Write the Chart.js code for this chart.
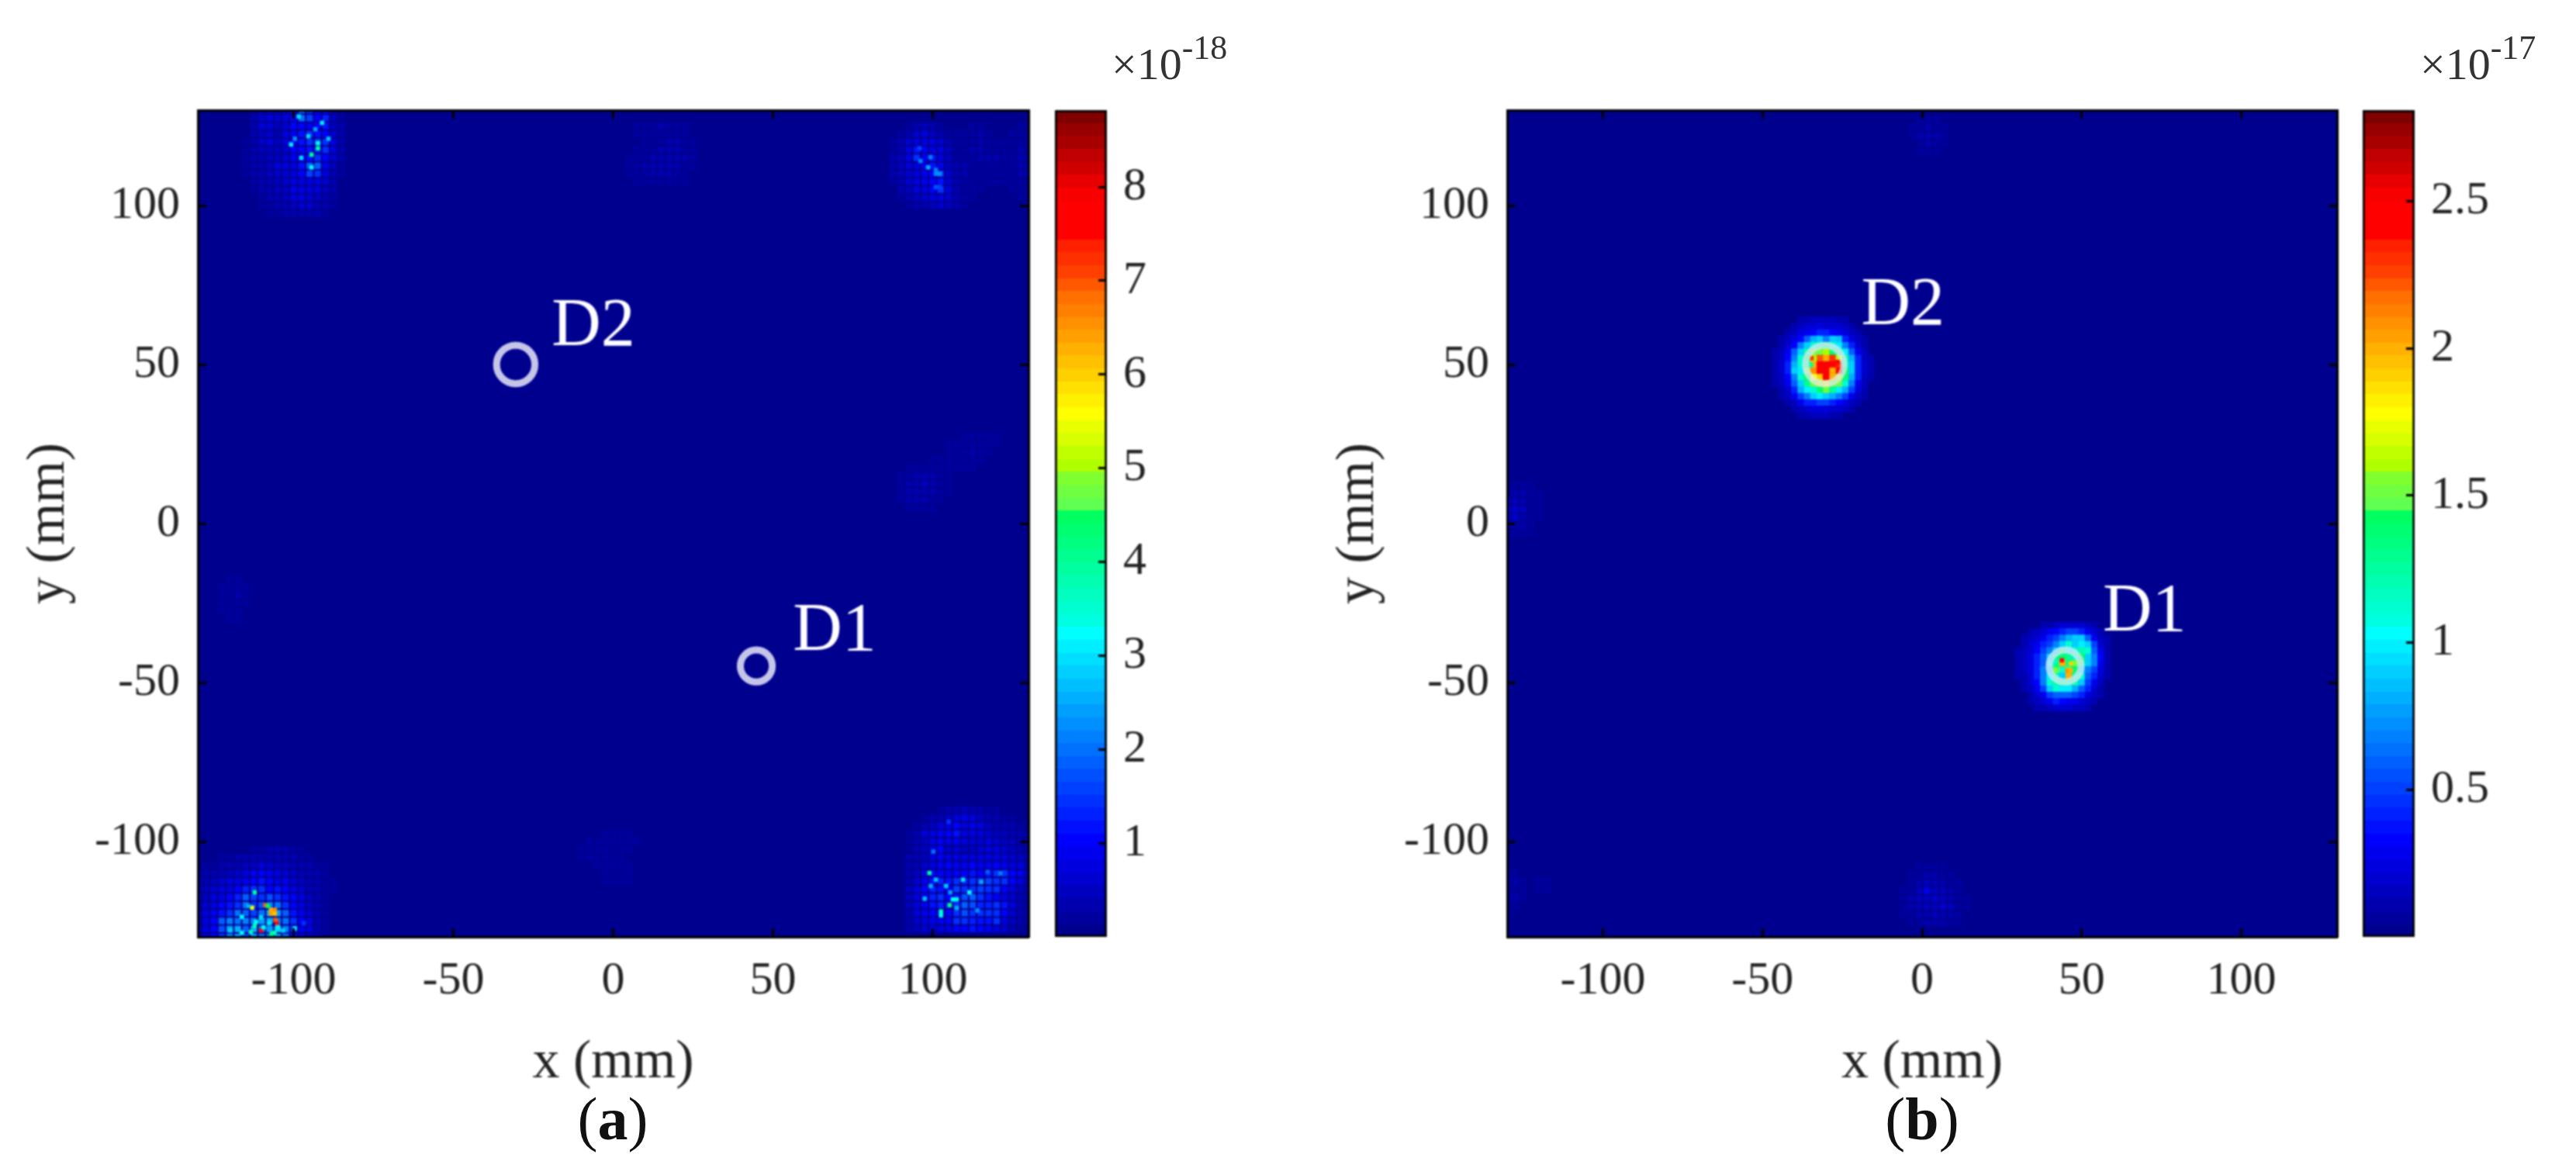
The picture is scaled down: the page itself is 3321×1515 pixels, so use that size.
<!DOCTYPE html>
<html>
<head>
<meta charset="utf-8">
<title>D1 D2 maps</title>
<script src="https://cdn.jsdelivr.net/npm/chart.js@4"></script>
<style>
  html, body { margin: 0; background: #fff; }
  body { position: relative; width: 3321px; height: 1515px; overflow: hidden; font-family: "Liberation Serif", serif; color: #222; }
  canvas { position: absolute; top: 0; filter: blur(0.9px); }
  .caption { position: absolute; top: 1396px; width: 300px; text-align: center; font-size: 78px; line-height: 94px; color: #111; }
  .exponent { position: absolute; top: 48px; font-size: 58px; line-height: 70px; white-space: nowrap; color: #333; }
  .exponent sup { font-size: 44px; line-height: 0; position: relative; top: -6px; vertical-align: super; }
</style>
</head>
<body>
<canvas id="panelA"></canvas>
<canvas id="barA"></canvas>
<canvas id="panelB"></canvas>
<canvas id="barB"></canvas>
<div class="exponent" style="left:1433px">×10<sup>-18</sup></div>
<div class="exponent" style="left:3120px">×10<sup>-17</sup></div>
<div class="caption" style="left:640px">(<b>a</b>)</div>
<div class="caption" style="left:2328px">(<b>b</b>)</div>
<script>
// ---- axis data ----
const xTicks = [-100, -50, 0, 50, 100];
const yTicks = [-100, -50, 0, 50, 100];
const axisMin = -130;
const axisMax = 130;
const cbarTicksA = [1, 2, 3, 4, 5, 6, 7, 8];
const cbarTicksB = [0.5, 1, 1.5, 2, 2.5];
const cbarMaxA = 8.82;   // x 10^-18
const cbarMaxB = 2.81;   // x 10^-17

// ---- defect positions ----
const defectNames = ['D1', 'D2'];
const defectX = [44.8, -30.5];
const defectY = [-44.8, 50];
const defectRadius = [5, 6];   // mm
const nameXA = [69.3, -6.2];
const nameYA = [-34.1, 61.8];
const nameXB = [69.7, -6];
const nameYB = [-28, 68.3];

// ---- panel (a), 2.5 mm readings, top row first ----
const rowsABottomLeft = [
  [0,0,0,0,0,0,0,.2,.2,.3,.3,.3,.2,.2,0,0,0,0],
  [0,0,0,.2,.2,.3,.3,.3,.4,.4,.4,.3,.3,.2,.2,0,0,0],
  [0,.2,.2,.3,.3,.4,.5,.5,.7,.6,.5,.5,.4,.3,.3,.2,.2,0],
  [.2,.3,.3,.4,.5,.6,.7,.9,1,.9,.7,.6,.5,.4,.3,.3,.2,0],
  [.3,.4,.5,.6,.7,.8,.9,1.1,1.2,1,.8,.9,.6,.5,.4,.3,.2,.2],
  [.3,.5,.6,.7,.8,1,1.3,1.5,1.4,1.1,1.2,1,.8,.6,.4,.3,.2,.2],
  [.4,.5,.7,.8,1,1.3,1.8,1.6,1.4,1.7,1.5,1.2,1,.7,.5,.3,.2,0],
  [.4,.6,.8,1,1.2,1.5,2,1.5,1.7,2.2,2,1.4,1.1,.8,.5,.3,.2,0],
  [.5,.7,.9,1.2,1.5,2,1.8,1.6,2,2.6,2.4,1.8,1.2,.9,.6,.3,.2,0],
  [.5,.8,1,1.8,2.2,2,2.2,2.2,2.4,2.6,2.2,2,1.4,1,.8,.4,.2,0],
  [.5,.8,1.1,1.7,2.4,2.6,1.8,2.6,2.2,2.4,2.8,2.2,1.5,.9,.7,.4,.2,0],
  [.4,.7,1,1.5,2.2,2.4,1.6,2.4,2,2.2,2.4,2,1.2,.8,.5,.3,.2,0]
];
const hotABottomLeft = [
  [-107.1,-121.5,6.3],[-105.9,-121.5,6.5],[-107.1,-122.7,6.4],[-105.9,-122.7,6.2],
  [-105.3,-125.7,7.7],[-105.7,-124.6,7],[-108.9,-120,7],[-108.1,-120.3,4.5],
  [-113,-120.8,5.5],[-112.2,-116,3.9],[-110.2,-128,7.8],[-116.2,-123.7,3.3],
  [-111.8,-125.3,3.3],[-110.2,-123.8,3],[-112.2,-126.5,3.8],[-106.9,-129,4.2],
  [-116.2,-128.7,3.2],[-119.8,-128,2.8],[-104.9,-126.9,3.1],[-107.7,-125.7,2.9],
  [-99.6,-127.3,2.9],[-103.3,-128,2.8],[-114.2,-120.3,2.5],[-96.8,-125.7,1.5],
  [-109.4,-127,3.3],[-113.4,-128.5,3.8],[-106,-128.7,3.6]
];
const rowsABottomRight = [
  [0,0,0,0,.2,.3,.4,.5,.4,.3,.2,.2,0,0,0,0],
  [0,0,.2,.3,.4,.5,.8,.9,.8,.5,.4,.3,.2,.2,0,0],
  [0,.2,.4,.5,.7,.8,1,.7,.9,.7,.5,.4,.3,.3,.2,0],
  [.2,.4,.7,.8,.9,1.1,1.2,.8,.8,.7,.6,.5,.5,.4,.3,.2],
  [.2,.4,.5,.8,.9,.7,.9,.8,.6,.6,.7,.6,.5,.5,.3,.2],
  [.2,.3,.5,.7,1,.5,.6,.5,.5,.6,.8,.7,.6,.5,.4,.2],
  [.3,.4,.5,.7,.9,.8,.7,.7,.8,.7,.8,.8,.7,.6,.5,.3],
  [.3,.4,.6,.8,.9,1,.9,.9,1,.9,.9,1,.9,.8,.7,.4],
  [.4,.5,.7,1,1.1,.9,1,1.1,1.2,1.1,1.2,1.4,1.5,1,.9,.5],
  [.4,.6,.9,1.2,1.3,1.2,1.4,1.3,1.5,1.4,1.6,1.5,1.4,1,.8,.4],
  [.5,.8,1,1.3,1.2,1,1.6,1.4,1.5,1.6,1.5,1.5,1,.8,.5,.3],
  [.5,.8,1.1,1.3,1.4,1.1,1.2,1.7,1.8,1.4,1.2,1,.8,.6,.4,.3],
  [.5,.8,.9,1.2,1.3,1.2,1.5,1.9,1.7,1.3,1.3,1.4,1.2,.7,.4,.2],
  [.4,.7,.9,1,1,1.1,1.5,1.7,1.5,1.4,1.5,1.4,1,.6,.4,.2],
  [.4,.6,.8,.9,.9,.9,1.5,1.4,1.3,1.2,1.2,1.4,.8,.5,.3,.2],
  [.3,.5,.6,.7,.7,.8,1,1.1,1.2,1,.9,.8,.6,.4,.2,0]
];
const hotABottomRight = [
  [99,-109.9,4.1],[107.5,-118.2,3.4],[106.3,-118.2,3.2],[105.3,-120,4.2],[102.6,-122,3.6],
  [102.6,-123.2,3.4],[111.5,-116,3.3],[109.5,-112,2.9],[101,-112,2.7],[99.4,-114,2.6],
  [104.2,-114,2.8],[97.5,-118,2.7],[121.2,-110,2.2],[117.2,-109.6,1.8],[105.5,-116,2.4],
  [115.2,-112.7,2.6],[107.5,-120.9,2.6],[114,-121.7,2.3],[100.2,-103.2,2],[105,-93.8,1.5]
];
const rowsATopLeft = [
  [0,.2,.5,.6,.5,.8,1.2,2,1.5,1,1,.4,.2],
  [0,.3,.6,.7,.6,.8,1,2,1.6,1,1.3,.5,.2],
  [0,.3,.7,.7,.5,.6,1,1.1,.9,1,1.2,.5,.3],
  [0,.3,.5,.6,.4,.7,.9,1.2,1.5,1.2,1,.6,.3],
  [.2,.3,.6,.7,.5,.8,1,1.2,1.4,1.6,1.5,.7,.3],
  [.2,.3,.5,.5,.5,.6,1,1,1.2,1.3,1.4,.8,.3],
  [.2,.3,.4,.5,.5,.6,.9,1,1.2,1.5,1,.6,.3],
  [.2,.3,.4,.5,.7,.7,.8,1.2,1.9,1.9,.9,.5,.2],
  [.2,.3,.4,.5,.6,.6,.8,1,1.6,1.4,.8,.4,.2],
  [0,.2,.3,.4,.5,.6,.8,.8,.7,.8,.6,.3,0],
  [0,.2,.3,.4,.5,.5,.9,.8,.7,.7,.5,.3,0],
  [0,0,.2,.3,.4,.5,.7,.7,.6,.5,.4,.2,0],
  [0,0,.2,.2,.3,.4,.5,.6,.6,.4,.3,.2,0],
  [0,0,0,.2,.2,.3,.3,.4,.3,.3,.2,0,0]
];
const hotATopLeft = [
  [-94.4,116,4.1],[-92.4,118,3.9],[-92.4,119.6,3.3],[-97.6,115,3],[-94.4,112,3.3],
  [-100.8,119.2,3.1],[-95.4,121.8,2.9],[-91.1,126,3.1],[-98.4,128,2.9],[-89.1,121,2.7],
  [-99.6,121,2.3],[-93.2,124,2.4]
];
const rowsATopRight = [
  [0,0,.2,.3,.5,.4,.2,0,0,0,.2,.2,0,0,0,0,.2,.2],
  [0,.2,.4,.6,.7,.5,.4,.2,.2,.2,.2,.3,.2,0,0,.2,.2,.2],
  [.2,.4,.6,.8,.8,.8,.6,.4,.2,.2,.2,.3,.2,.2,.2,.2,.2,.2],
  [.2,.4,.7,1.2,.9,.8,.7,.5,.2,.2,.3,.4,.2,.2,.2,.2,.3,.2],
  [.3,.5,.7,1.4,.9,1.2,.8,.5,.2,.2,.2,.3,.3,.3,.2,.2,.3,.3],
  [.3,.5,.7,.8,.9,1.2,.9,.5,.3,.3,.2,.2,.2,.2,.2,.2,.3,.3],
  [.3,.5,.6,.8,.9,1,1.5,.6,.4,.3,.2,.2,.2,.2,.2,.2,.3,.3],
  [.2,.4,.6,.8,.9,1,1.2,.6,.3,.2,.2,.2,.2,.2,.2,.2,.2,.2],
  [0,.3,.5,.7,.8,1,1.4,.7,.3,.2,.2,.2,0,0,0,.2,.2,.2],
  [0,.2,.3,.5,.6,.7,.7,.6,.4,.2,.2,0,0,0,0,0,.2,.2],
  [0,0,.2,.3,.4,.5,.6,.5,.3,.2,0,0,0,0,0,0,0,.2]
];
const hotATopRight = [
  [95.9,118,1.6],[96.2,114,2.2],[101,110,2.3],[102.2,110,2.3],[101,111.2,2.2],
  [101,105.8,1.7],[102.2,105.8,1.6],[98.6,112,2.6],[99.3,115.2,2.2]
];
const rowsATopMiddle = [
  [0,.2,.2,.2,.3,.2,.2,.2,0],
  [0,.2,.2,.2,.2,.2,.2,.2,0],
  [0,0,.2,.2,.2,.3,.3,.2,.2],
  [0,.2,.2,.2,.3,.4,.4,.2,.2],
  [.2,.2,.2,.3,.4,.4,.4,.3,.2],
  [.2,.2,.3,.4,.4,.4,.3,.2,.2],
  [.2,.2,.2,.3,.3,.3,.2,.2,0],
  [0,.2,.2,.2,.2,.2,.2,.2,0]
];
const rowsARight = [
  [0,0,0,0,0,0,0,0,.15,.15,.15,.15,.15],
  [0,0,0,0,0,0,.15,.15,.2,.2,.2,.2,.15],
  [0,0,0,0,0,0,.15,.2,.2,.3,.2,.15,0],
  [0,0,0,0,.15,.15,.15,.2,.2,.2,.15,0,0],
  [0,.15,.15,.15,.2,.2,.15,.15,.15,.15,0,0,0],
  [.15,.2,.3,.3,.3,.2,.15,0,0,0,0,0,0],
  [.2,.3,.4,.5,.3,.2,.15,0,0,0,0,0,0],
  [.2,.3,.4,.4,.3,.2,.15,0,0,0,0,0,0],
  [.15,.3,.3,.3,.2,.15,0,0,0,0,0,0,0],
  [0,.15,.2,.2,.15,0,0,0,0,0,0,0,0]
];
const rowsALeft = [
  [0,.15,.15,0],
  [.15,.2,.2,.15],
  [.15,.2,.3,.15],
  [.15,.2,.2,.15],
  [.15,.2,.15,0],
  [0,.15,.15,0]
];
const rowsABottomMiddle = [
  [0,0,0,.15,.15,.15,.15,0],
  [0,.15,.15,.15,.15,.15,.15,.15],
  [.15,.15,.15,.15,.15,.15,.15,0],
  [.15,.15,.15,.15,.15,.15,0,0],
  [0,0,.15,.15,.15,.15,.15,0],
  [0,0,0,.15,.15,.15,.15,0],
  [0,0,0,.15,.15,.15,.15,0]
];

// ---- panel (b), 2 mm readings around the defects, top row first ----
const rowsBD2 = [
  [0,0,0,0,.1,.1,.15,.15,.15,.15,.1,.1,0,0,0,0],
  [0,0,0,.1,.15,.2,.2,.25,.2,.2,.2,.15,.1,0,0,0],
  [0,0,.1,.15,.25,.3,.35,.4,.4,.35,.3,.25,.15,.1,0,0],
  [0,.1,.15,.25,.35,.6,.8,.9,.7,.9,.85,.4,.25,.15,.1,0],
  [0,.1,.2,.35,.7,.9,1.1,1.2,1.3,1.1,1,.7,.4,.2,.1,0],
  [.1,.15,.3,.6,.9,1.2,1.5,1.5,1.6,1.4,1.3,1,.6,.3,.15,0],
  [.1,.15,.35,.7,1.1,1.4,1.6,2.2,2,2.3,1.6,1.2,.8,.4,.15,.1],
  [.1,.2,.4,.8,1.1,1.3,2,2.5,2.4,2.5,2.3,1.2,.9,.4,.2,.1],
  [.1,.2,.4,.9,1,1.5,2.1,2.4,2.5,2,2.5,1.4,.9,.4,.2,.1],
  [.1,.15,.35,.7,1.1,1.4,1.8,1.9,2.4,2,1.6,1.4,.8,.4,.15,.1],
  [.1,.15,.3,.6,.9,1.3,1.5,1.6,1.7,1.5,1.5,1.1,.7,.3,.15,0],
  [0,.1,.2,.4,.8,1,1.1,1.4,1.5,1.3,1,.8,.5,.25,.1,0],
  [0,.1,.15,.3,.5,.7,.9,1,.9,.8,.7,.5,.3,.15,.1,0],
  [0,0,.1,.15,.3,.4,.4,.5,.5,.4,.35,.25,.15,.1,0,0],
  [0,0,0,.1,.15,.2,.25,.25,.25,.2,.2,.15,.1,0,0,0],
  [0,0,0,0,.1,.1,.15,.15,.15,.1,.1,0,0,0,0,0]
];
const hotBD2 = [
  [-34.8,49.9,1.2],[-30.8,49.7,2.5],[-26.5,50.8,2.5],[-30.5,46.2,2.5],[-34.6,52,2.3]
];
const rowsBD1 = [
  [0,0,0,0,.1,.1,.15,.2,.2,.2,.2,.15,.1,0,0,0],
  [0,0,.1,.15,.2,.3,.35,.4,.5,.5,.4,.3,.2,.1,0,0],
  [0,.1,.15,.2,.3,.4,.5,.7,.8,.9,.9,.6,.3,.15,.1,0],
  [0,.1,.2,.3,.4,.5,.7,.9,1.1,.9,1,.9,.5,.2,.1,0],
  [.1,.15,.2,.35,.5,.7,.9,1.3,1,1.1,1.2,1.1,.6,.3,.1,0],
  [.1,.15,.25,.4,.6,.9,1.3,1.4,1.3,1.1,1.4,.9,.7,.35,.1,0],
  [.1,.15,.25,.4,.6,1,1.1,2,1.3,1.5,1.3,.9,.7,.3,.1,0],
  [.1,.15,.25,.4,.7,.9,1.5,1.1,1.5,1.4,.9,.7,.5,.25,.1,0],
  [.1,.1,.2,.4,.7,1,1.2,.9,2,1.2,1.1,.6,.4,.2,.1,0],
  [0,.1,.2,.35,.7,1.1,1.2,1.3,1.2,1.2,.9,.5,.3,.15,0,0],
  [0,.1,.15,.3,.5,.9,1.1,1,1,.8,.6,.4,.2,.1,0,0],
  [0,0,.1,.2,.3,.5,.6,.6,.6,.5,.4,.25,.15,.1,0,0],
  [0,0,.1,.15,.2,.3,.4,.35,.3,.3,.2,.15,.1,0,0,0],
  [0,0,0,.1,.1,.15,.2,.2,.2,.15,.15,.1,0,0,0,0]
];
const hotBD1 = [
  [43.8,-43,2.5],[45.4,-46.2,2.1],[46.6,-46.2,2],[46.6,-44,1.9],[42.2,-44.6,1.4]
];
const rowsBLeft = [
  [.07,.07,.07,.07,0],
  [.07,.1,.1,.07,.07],
  [.15,.15,.1,.07,.07],
  [.3,.2,.15,.07,.07],
  [.25,.2,.1,.07,.07],
  [.15,.1,.1,.07,0],
  [.07,.07,.07,.07,0]
];
const rowsBBottomMiddle = [
  [0,0,.07,.07,.07,.07,0,0,0],
  [0,.07,.07,.1,.1,.07,.07,0,0],
  [0,.07,.1,.15,.1,.1,.07,.07,0],
  [.07,.07,.15,.3,.15,.15,.1,.07,0],
  [.07,.1,.15,.15,.2,.15,.1,.07,.07],
  [.07,.1,.1,.15,.15,.2,.15,.07,.07],
  [.07,.07,.1,.1,.15,.1,.1,.07,0],
  [0,.07,.07,.1,.1,.1,.07,.07,0]
];
const rowsBTopMiddle = [
  [0,.07,.07,.07,0],
  [.07,.07,.1,.07,.07],
  [.07,.1,.1,.1,.07],
  [0,.07,.1,.07,.07],
  [0,.07,.07,.07,0]
];
const rowsBBottomLeft = [
  [.07,.07,0,0,0,0],
  [.07,.1,.07,0,.07,.07],
  [.07,.07,.07,0,.07,.07],
  [.07,.1,.07,0,0,0],
  [0,.07,0,0,0,0]
];

// ---- colour map, bottom to top ----
const mapColors = [
  '#00008F','#00009F','#0000AF','#0000BF','#0000CF','#0000DF','#0000EF','#0000FF',
  '#0010FF','#0020FF','#0030FF','#0040FF','#0050FF','#0060FF','#0070FF','#0080FF',
  '#008FFF','#009FFF','#00AFFF','#00BFFF','#00CFFF','#00DFFF','#00EFFF','#00FFFF',
  '#00FFE0','#00FFD0','#00FFC0','#00FFB0','#00FFA0','#00FF90','#00FF80','#00FF70',
  '#00FF60','#60FF50','#70FF40','#80FF30','#B0FF00','#C0FF00','#D8FF00','#E8FF00',
  '#FFFF00','#FFF000','#FFE000','#FFD000','#FFC000','#FFB000','#FFA000','#FF9000',
  '#FF8000','#FF7000','#FF5800','#FF4000','#FF3000','#FF2000','#FF0000','#FF0000',
  '#FF0000','#F80000','#E80000','#D00000','#C00000','#A80000','#960000','#800000'
];

const tickFont = { family: 'Liberation Serif', size: 60 };
const titleFont = { family: 'Liberation Serif', size: 70 };
const inkColor = '#222';

function colorFor(v, vmax) {
  const i = Math.min(mapColors.length - 1, Math.floor(v / vmax * mapColors.length));
  return mapColors[i];
}

function gridPoints(rows, x0, y0, step) {
  const pts = [];
  rows.forEach((row, r) => row.forEach((v, c) => {
    if (v > 0) pts.push({ x: x0 + c * step, y: y0 - r * step, v: v });
  }));
  return pts;
}

function listPoints(list) {
  return list.map(p => ({ x: p[0], y: p[1], v: p[2] }));
}

// size is the drawn width of a cell in mm
function cellDataset(points, size, vmax) {
  return {
    data: points,
    showLine: false,
    pointStyle: 'rect',
    pointBorderWidth: 0,
    pointBackgroundColor: points.map(p => colorFor(p.v, vmax)),
    pointRadius: ctx => ctx.chart.scales.x.width / (axisMax - axisMin) * size / Math.SQRT2 + 0.3
  };
}

function ringDataset(alpha) {
  return {
    data: defectX.map((x, i) => ({ x: x, y: defectY[i] })),
    showLine: false,
    pointStyle: 'circle',
    pointBackgroundColor: 'rgba(0,0,0,0)',
    pointBorderColor: 'rgba(232,232,250,' + alpha + ')',
    pointBorderWidth: 9,
    pointRadius: ctx => ctx.chart.scales.x.width / (axisMax - axisMin) * defectRadius[ctx.dataIndex]
  };
}

function tickGrid() {
  return { drawOnChartArea: false, drawTicks: true, tickLength: -11, tickColor: '#000', tickWidth: 3, z: 1 };
}

function axisBorder() {
  return { display: true, color: '#000', width: 3, z: 1 };
}

function fixedTicks(values) {
  return scale => { scale.ticks = values.map(v => ({ value: v })); };
}

const plotBackground = {
  id: 'plotBackground',
  beforeDatasetsDraw(chart) {
    const a = chart.chartArea;
    chart.ctx.save();
    chart.ctx.fillStyle = mapColors[0];
    chart.ctx.fillRect(a.left, a.top, a.right - a.left, a.bottom - a.top);
    chart.ctx.restore();
  }
};

const defectNamesPlugin = {
  id: 'defectNames',
  afterDatasetsDraw(chart, args, opts) {
    const ctx = chart.ctx;
    ctx.save();
    ctx.fillStyle = '#fff';
    ctx.font = '88px "Liberation Serif"';
    ctx.textAlign = 'center';
    ctx.textBaseline = 'middle';
    defectNames.forEach((name, i) => {
      ctx.fillText(name, chart.scales.x.getPixelForValue(opts.x[i]), chart.scales.y.getPixelForValue(opts.y[i]));
    });
    ctx.restore();
  }
};

function makePanel(id, left, width, datasets, nameX, nameY) {
  const canvas = document.getElementById(id);
  canvas.width = width;
  canvas.height = 1420;
  canvas.style.left = left + 'px';
  new Chart(canvas, {
    type: 'scatter',
    data: { datasets: datasets.slice().reverse() },   // chart.js paints the first dataset last
    plugins: [plotBackground, defectNamesPlugin],
    options: {
      responsive: false,
      animation: false,
      devicePixelRatio: 1,
      events: [],
      layout: { autoPadding: false, padding: { top: 142, right: 19, left: 0, bottom: 0 } },
      plugins: { legend: { display: false }, tooltip: { enabled: false }, defectNames: { x: nameX, y: nameY } },
      scales: {
        x: {
          type: 'linear', position: 'bottom', min: axisMin, max: axisMax,
          afterBuildTicks: fixedTicks(xTicks),
          afterFit: s => { s.height = 212; },
          grid: tickGrid(), border: axisBorder(),
          ticks: { font: tickFont, color: inkColor, padding: 32, maxRotation: 0, autoSkip: false, callback: v => String(v) },
          title: { display: true, text: 'x (mm)', font: titleFont, color: inkColor, padding: { top: 0, bottom: 7 } }
        },
        y: {
          type: 'linear', position: 'left', min: axisMin, max: axisMax,
          afterBuildTicks: fixedTicks(yTicks),
          afterFit: s => { s.width = 255; },
          grid: tickGrid(), border: axisBorder(),
          ticks: { font: tickFont, color: inkColor, padding: 34, autoSkip: false, callback: v => String(v) },
          title: { display: true, text: 'y (mm)', font: titleFont, color: inkColor, padding: { top: 22, bottom: 0 } }
        },
        xTop: {
          type: 'linear', position: 'top', min: axisMin, max: axisMax,
          afterBuildTicks: fixedTicks(xTicks),
          afterFit: s => { s.height = 0; },
          grid: tickGrid(), border: axisBorder(),
          ticks: { display: false }
        },
        yRight: {
          type: 'linear', position: 'right', min: axisMin, max: axisMax,
          afterBuildTicks: fixedTicks(yTicks),
          afterFit: s => { s.width = 0; },
          grid: tickGrid(), border: axisBorder(),
          ticks: { display: false }
        }
      }
    }
  });
}

function bandedFill(ctx) {
  const a = ctx.chart.chartArea;
  if (!a) return mapColors[0];
  const g = ctx.chart.ctx.createLinearGradient(0, a.bottom, 0, a.top);
  mapColors.forEach((c, i) => {
    g.addColorStop(i / mapColors.length, c);
    g.addColorStop((i + 1) / mapColors.length, c);
  });
  return g;
}

function makeColorBar(id, left, padLeft, vmax, ticks) {
  const canvas = document.getElementById(id);
  canvas.width = 200;
  canvas.height = 1420;
  canvas.style.left = left + 'px';
  new Chart(canvas, {
    type: 'bar',
    data: {
      labels: ['scale'],
      datasets: [{
        data: [[0, vmax]],
        backgroundColor: bandedFill,
        borderColor: '#000',
        borderWidth: 3,
        borderSkipped: false,
        barPercentage: 1,
        categoryPercentage: 1
      }]
    },
    options: {
      responsive: false,
      animation: false,
      devicePixelRatio: 1,
      events: [],
      layout: { autoPadding: false, padding: { top: 142, left: padLeft, right: 0, bottom: 212 } },
      plugins: { legend: { display: false }, tooltip: { enabled: false } },
      scales: {
        x: { display: false },
        y: {
          type: 'linear', position: 'right', min: 0, max: vmax,
          afterBuildTicks: fixedTicks(ticks),
          afterFit: s => { s.width = 200 - padLeft - 67; },
          grid: { drawOnChartArea: false, drawTicks: true, tickLength: -11, tickColor: '#000', tickWidth: 3, z: 1 },
          border: { display: false },
          ticks: { font: tickFont, color: inkColor, padding: 32, autoSkip: false, callback: v => String(v), z: 1 }
        }
      }
    }
  });
}

// haze cells are drawn narrower than their 2.5 mm spacing, the picture shows gaps between them
const hazeSize = 1.9;

const datasetsA = [
  cellDataset(gridPoints(rowsABottomLeft, -130, -102.5, 2.5), hazeSize, cbarMaxA),
  cellDataset(gridPoints(rowsABottomRight, 92.5, -90, 2.5), hazeSize, cbarMaxA),
  cellDataset(gridPoints(rowsATopLeft, -115, 130, 2.5), hazeSize, cbarMaxA),
  cellDataset(gridPoints(rowsATopRight, 87.5, 125, 2.5), hazeSize, cbarMaxA),
  cellDataset(gridPoints(rowsATopMiddle, 5, 125, 2.5), hazeSize, cbarMaxA),
  cellDataset(gridPoints(rowsARight, 90, 27.5, 2.5), hazeSize, cbarMaxA),
  cellDataset(gridPoints(rowsALeft, -122.5, -17.5, 2.5), hazeSize, cbarMaxA),
  cellDataset(gridPoints(rowsABottomMiddle, -10, -97.5, 2.5), hazeSize, cbarMaxA),
  cellDataset(listPoints(hotABottomLeft), 1.25, cbarMaxA),
  cellDataset(listPoints(hotABottomRight), 1.25, cbarMaxA),
  cellDataset(listPoints(hotATopLeft), 1.25, cbarMaxA),
  cellDataset(listPoints(hotATopRight), 1.25, cbarMaxA),
  ringDataset(0.85)
];

const datasetsB = [
  cellDataset(gridPoints(rowsBD2, -46, 64, 2), 2, cbarMaxB),
  cellDataset(gridPoints(rowsBD1, 30, -32, 2), 2, cbarMaxB),
  cellDataset(gridPoints(rowsBLeft, -130, 12, 2.5), hazeSize, cbarMaxB),
  cellDataset(gridPoints(rowsBBottomMiddle, -6, -108, 2.5), hazeSize, cbarMaxB),
  cellDataset(gridPoints(rowsBTopMiddle, -3, 127, 2.5), hazeSize, cbarMaxB),
  cellDataset(gridPoints(rowsBBottomLeft, -130, -110, 2.5), hazeSize, cbarMaxB),
  cellDataset(listPoints(hotBD2), 1.25, cbarMaxB),
  cellDataset(listPoints(hotBD1), 1.25, cbarMaxB),
  ringDataset(0.7)
];

makePanel('panelA', 0, 1345, datasetsA, nameXA, nameYA);
makeColorBar('barA', 1345, 15, cbarMaxA, cbarTicksA);
makePanel('panelB', 1688, 1344, datasetsB, nameXB, nameYB);
makeColorBar('barB', 3033, 13, cbarMaxB, cbarTicksB);
</script>
</body>
</html>
